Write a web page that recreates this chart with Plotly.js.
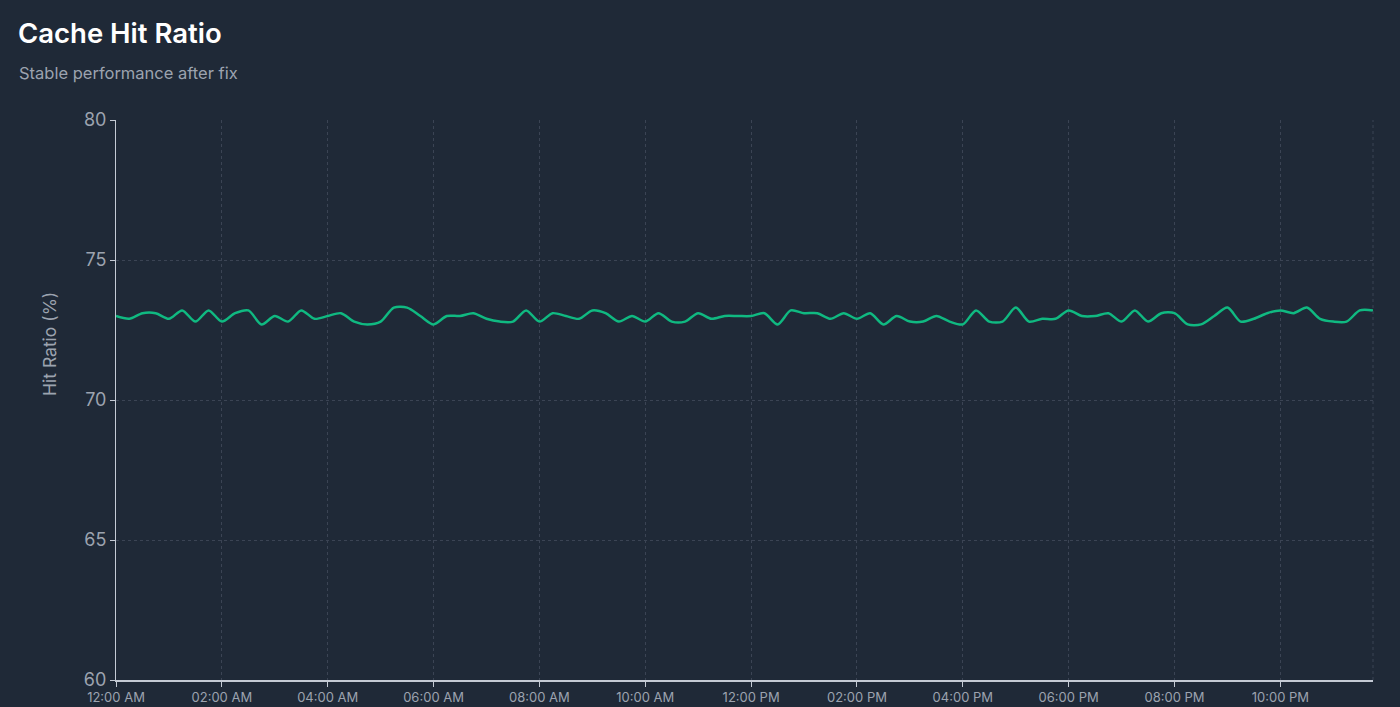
<!DOCTYPE html>
<html>
<head>
<meta charset="utf-8">
<script src="https://cdn.plot.ly/plotly-3.0.1.min.js"></script>
<style>
  html, body { margin: 0; padding: 0; background: #1f2937; }
  #chart { width: 1400px; height: 707px; }
</style>
</head>
<body>
<div id="chart"></div>
<script>
// hit ratio (%) every 15 minutes, 12:00 AM .. 11:45 PM
const hitRatio = [
  73.0, 72.9, 73.1, 73.1, 72.9, 73.2, 72.8, 73.2, 72.8, 73.1, 73.2, 72.7, 73.0, 72.8, 73.2, 72.9,
  73.0, 73.1, 72.8, 72.7, 72.8, 73.3, 73.3, 73.0, 72.7, 73.0, 73.0, 73.1, 72.9, 72.8, 72.8, 73.2,
  72.8, 73.1, 73.0, 72.9, 73.2, 73.1, 72.8, 73.0, 72.8, 73.1, 72.8, 72.8, 73.1, 72.9, 73.0, 73.0,
  73.0, 73.1, 72.7, 73.2, 73.1, 73.1, 72.9, 73.1, 72.9, 73.1, 72.7, 73.0, 72.8, 72.8, 73.0, 72.8,
  72.7, 73.2, 72.8, 72.8, 73.3, 72.8, 72.9, 72.9, 73.2, 73.0, 73.0, 73.1, 72.8, 73.2, 72.8, 73.1,
  73.1, 72.7, 72.7, 73.0, 73.3, 72.8, 72.9, 73.1, 73.2, 73.1, 73.3, 72.9, 72.8, 72.8, 73.2, 73.2
];

const dayStart = '2024-01-01 00:00';
const dayEnd = '2024-01-01 23:45';
const yTicks = [60, 65, 70, 75, 80];

// timestamps, one per reading
const times = hitRatio.map((_, i) => {
  const m = i * 15;
  const hh = String(Math.floor(m / 60)).padStart(2, '0');
  const mm = String(m % 60).padStart(2, '0');
  return '2024-01-01 ' + hh + ':' + mm;
});

const gridCol = '#3b4454';
const axisCol = '#c4cad4';
const tickTxt = '#9ca3af';

const trace = {
  x: times,
  y: hitRatio,
  type: 'scatter',
  mode: 'lines',
  line: { color: '#10b981', width: 2.5, shape: 'spline', smoothing: 0.8 },
  hoverinfo: 'x+y'
};

const layout = {
  width: 1400,
  height: 707,
  paper_bgcolor: '#1f2937',
  plot_bgcolor: '#1f2937',
  margin: { l: 116, r: 27, t: 120, b: 27 },
  showlegend: false,
  font: { family: 'Inter, "Noto Sans", sans-serif', color: tickTxt },
  title: {
    text: 'Cache Hit Ratio',
    font: { family: 'Inter, sans-serif', size: 27.5, color: '#ffffff', weight: 600 },
    xref: 'container', yref: 'container',
    x: 18 / 1400, xanchor: 'left',
    y: 1 - 33 / 707, yanchor: 'middle'
  },
  annotations: [{
    text: 'Stable performance after fix',
    xref: 'paper', yref: 'paper',
    x: (17 - 116) / 1257, xanchor: 'left',
    y: 1 + (120 - 73) / 560, yanchor: 'middle',
    showarrow: false,
    font: { family: 'Inter, sans-serif', size: 16.5, color: '#9ca3af' }
  }, {
    // y axis label, placed a little above the plot middle as in the original
    text: 'Hit Ratio (%)',
    xref: 'paper', yref: 'paper',
    x: (49 - 116) / 1257, xanchor: 'center',
    y: 1 - (344 - 120) / 560, yanchor: 'middle',
    textangle: -90,
    showarrow: false,
    font: { family: 'Inter, sans-serif', size: 17.5, color: '#9ca3af' }
  }],
  shapes: [{
    // dashed right border of the grid
    type: 'line', xref: 'paper', yref: 'paper',
    x0: 1, x1: 1, y0: 0, y1: 1,
    line: { color: gridCol, width: 1, dash: '3px,3px' }
  }],
  xaxis: {
    type: 'date',
    range: [dayStart, dayEnd],
    dtick: 2 * 3600 * 1000,
    tick0: dayStart,
    tickformat: '%I:%M %p',
    showgrid: true,
    gridcolor: gridCol,
    griddash: '3px,3px',
    gridwidth: 1,
    zeroline: false,
    showline: true,
    linecolor: axisCol,
    linewidth: 1.5,
    ticks: 'outside',
    ticklen: 5,
    tickcolor: axisCol,
    tickfont: { size: 13, color: tickTxt }
  },
  yaxis: {
    range: [60, 80],
    tickvals: yTicks,
    showgrid: true,
    gridcolor: gridCol,
    griddash: '3px,3px',
    gridwidth: 1,
    zeroline: false,
    showline: true,
    linecolor: axisCol,
    linewidth: 1,
    ticks: 'outside',
    ticklen: 5,
    tickcolor: axisCol,
    tickfont: { size: 18, color: tickTxt }
  }
};

Plotly.newPlot('chart', [trace], layout, { displayModeBar: false, responsive: false });
</script>
</body>
</html>
